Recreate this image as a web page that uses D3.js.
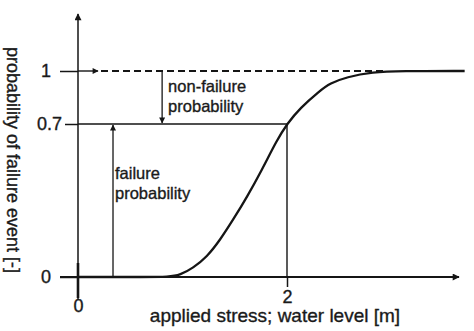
<!DOCTYPE html>
<html><head><meta charset="utf-8">
<script src="https://cdn.jsdelivr.net/npm/d3@7"></script>
<style>
body{margin:0;background:#fff;}
text{font-family:"Liberation Sans",Arial,sans-serif;fill:#1a1a1a;stroke:#1a1a1a;stroke-width:0.35px;}
</style></head>
<body><svg id="c" width="474" height="331"></svg>
<script>
// data
const stress = [0, 0.3, 0.6, 0.88, 0.976, 1.10, 1.234, 1.359, 1.483, 1.617, 1.76, 1.904, 2.0, 2.124, 2.316, 2.41, 2.57, 2.82, 3.08, 3.70];
const prob   = [0, 0, 0, 0, 0.009, 0.041, 0.092, 0.169, 0.261, 0.366, 0.49, 0.627, 0.70, 0.79, 0.889, 0.93, 0.966, 0.994, 1, 1];
const yTicks = [0, 0.7, 1];
const yTickLabels = ["0", "0.7", "1"];
const xTicks = [0, 2];
const xTickLabels = ["0", "2"];
const yTitle = "probability of failure event [-]";
const xTitle = "applied stress; water level [m]";
const annotations = [["non-failure", "probability"], ["failure", "probability"]];
const failP = 0.7, failX = 2;

const svg = d3.select("#c");
const ink = "#151515";
const x = d3.scaleLinear().domain([0, 2]).range([78, 287]);
const y = d3.scaleLinear().domain([0, 0.7, 1]).range([277, 124, 71]);

const defs = svg.append("defs");
function marker(id, w, h){
  defs.append("marker").attr("id", id).attr("viewBox", "0 0 10 10").attr("refX", 9).attr("refY", 5)
    .attr("markerWidth", w).attr("markerHeight", h).attr("markerUnits", "userSpaceOnUse").attr("orient", "auto")
    .append("path").attr("d", "M0,0 L10,5 L0,10 Z").attr("fill", ink);
}
marker("ah", 8, 7);
marker("ahs", 7, 6);

// axes lines
svg.append("line").attr("x1", x(0)).attr("x2", x(0)).attr("y1", 300).attr("y2", 14)
  .attr("stroke", ink).attr("stroke-width", 1.5).attr("marker-end", "url(#ah)");
svg.append("line").attr("x1", 60).attr("x2", 459).attr("y1", y(0)).attr("y2", y(0))
  .attr("stroke", ink).attr("stroke-width", 1.8).attr("marker-end", "url(#ah)");
// thicker tick at x=0
svg.append("line").attr("x1", x(0)).attr("x2", x(0)).attr("y1", 263).attr("y2", 298)
  .attr("stroke", ink).attr("stroke-width", 2.6);

// y axis via d3
const yAx = svg.append("g").attr("transform", `translate(${x(0)},0)`)
  .call(d3.axisLeft(y).tickValues(yTicks).tickSize(18).tickPadding(9)
    .tickFormat((d,i)=>yTickLabels[i]));
yAx.select(".domain").remove();
yAx.attr("font-family", null).attr("font-size", null);
yAx.selectAll(".tick line").attr("stroke", ink).attr("stroke-width", 1.5);
yAx.selectAll(".tick text").attr("font-size", 18).attr("fill", "#1a1a1a");
yAx.selectAll(".tick").filter(d => d === 0.7).select("line").attr("x2", -13);
yAx.selectAll(".tick").filter(d => d === 0.7).select("text").attr("x", -16);

// x axis via d3
const xAx = svg.append("g").attr("transform", `translate(0,${y(0)})`)
  .call(d3.axisBottom(x).tickValues(xTicks).tickSize(10).tickPadding(3)
    .tickFormat((d,i)=>xTickLabels[i]));
xAx.select(".domain").remove();
xAx.attr("font-family", null).attr("font-size", null);
xAx.selectAll(".tick line").attr("stroke", ink).attr("stroke-width", 1.5);
xAx.selectAll(".tick").filter(d => d === 0).select("line").remove();
xAx.selectAll(".tick text").attr("font-size", 18).attr("fill", "#1a1a1a");
xAx.selectAll(".tick").filter(d => d === 0).select("text").attr("y", 22);

// 0.7 reference lines
svg.append("line").attr("x1", x(0)).attr("x2", x(failX)).attr("y1", y(failP)).attr("y2", y(failP))
  .attr("stroke", ink).attr("stroke-width", 1.4);
svg.append("line").attr("x1", x(failX)).attr("x2", x(failX)).attr("y1", y(failP)).attr("y2", y(0))
  .attr("stroke", ink).attr("stroke-width", 1.4);

// p=1 line: short solid arrow then dashed
svg.append("line").attr("x1", x(0)).attr("x2", 98).attr("y1", y(1)).attr("y2", y(1))
  .attr("stroke", ink).attr("stroke-width", 1.4).attr("marker-end", "url(#ahs)");
svg.append("line").attr("x1", 101).attr("x2", 385).attr("y1", y(1)).attr("y2", y(1))
  .attr("stroke", ink).attr("stroke-width", 2).attr("stroke-dasharray", "7,4");

// curve
svg.append("path").datum(stress.map((s,i)=>[s, prob[i]]))
  .attr("d", d3.line().x(d=>x(d[0])).y(d=>y(d[1])).curve(d3.curveBasis))
  .attr("fill", "none").attr("stroke", ink).attr("stroke-width", 2.3);

// failure probability arrow (up)
const fx = x(0.335);
svg.append("line").attr("x1", fx).attr("x2", fx).attr("y1", y(0)).attr("y2", y(failP) + 1)
  .attr("stroke", ink).attr("stroke-width", 1.3).attr("marker-end", "url(#ahs)");
// non-failure arrow (down)
const nx = x(0.805);
svg.append("line").attr("x1", nx).attr("x2", nx).attr("y1", y(1)).attr("y2", y(failP) - 1)
  .attr("stroke", ink).attr("stroke-width", 1.3).attr("marker-end", "url(#ahs)");

// annotations
const ann = [[annotations[0][0], nx + 6, 92], [annotations[0][1], nx + 6, 112],
             [annotations[1][0], fx + 2, 179], [annotations[1][1], fx + 2, 199]];
svg.selectAll("text.ann").data(ann).join("text").attr("class", "ann")
  .attr("x", d=>d[1]).attr("y", d=>d[2]).attr("font-size", 16.5).text(d=>d[0]);

// titles
svg.append("text").attr("transform", "translate(7,160) rotate(90)").attr("text-anchor", "middle")
  .attr("font-size", 18).text(yTitle);
svg.append("text").attr("x", 275).attr("y", 322).attr("text-anchor", "middle")
  .attr("font-size", 19).text(xTitle);
</script></body></html>
